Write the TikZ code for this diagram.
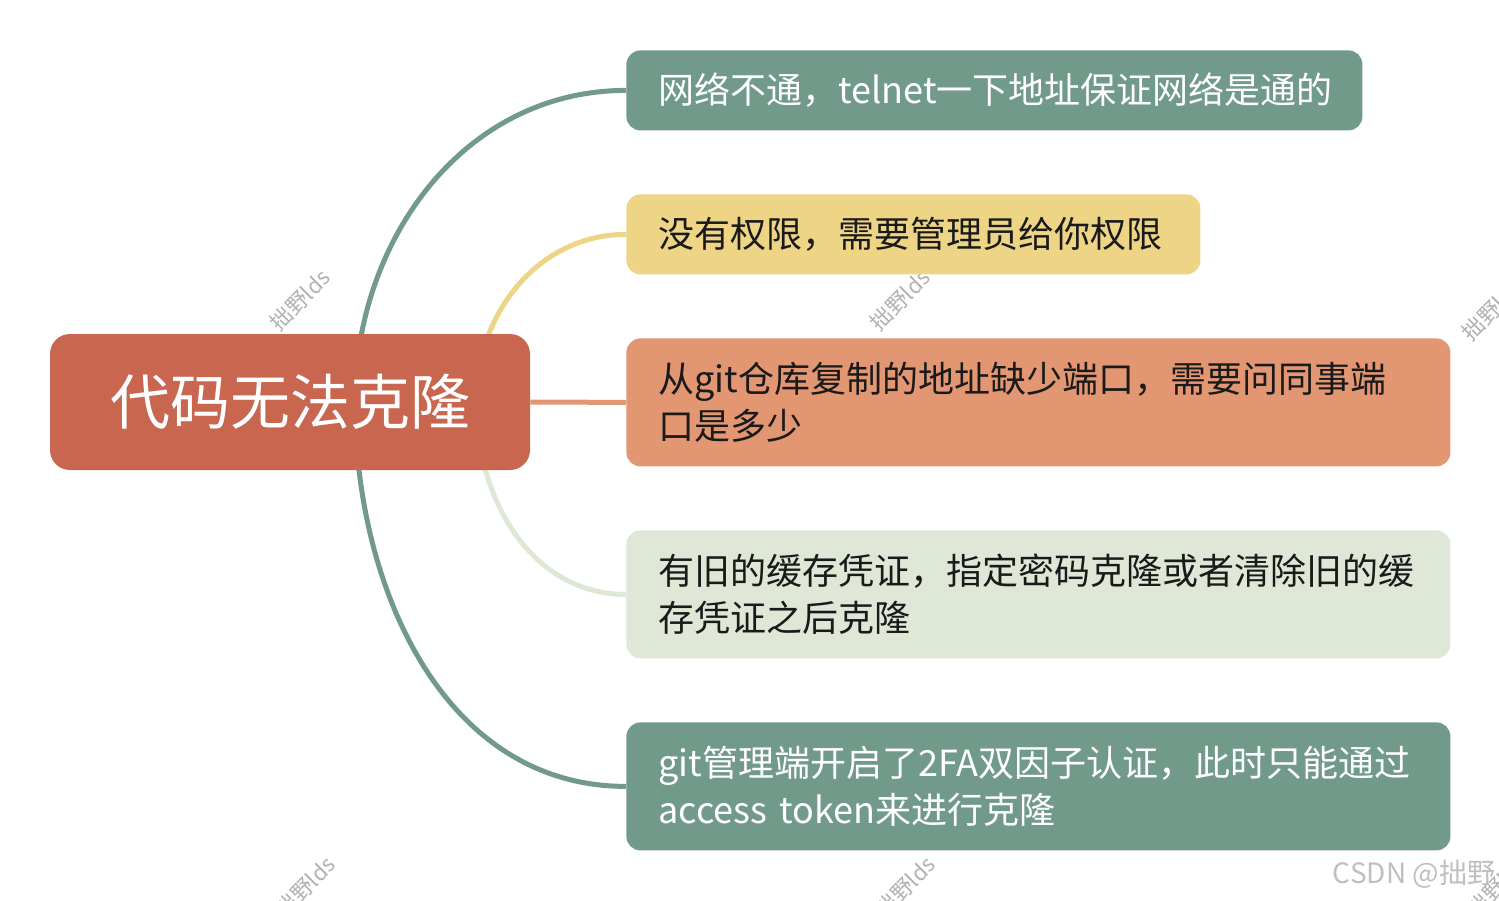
\documentclass[tikz,border=0pt]{standalone}
\usepackage{fontspec}
\setmainfont{Noto Sans CJK SC}
\usetikzlibrary{positioning, backgrounds}

\definecolor{rootred}{HTML}{C8664F}
\definecolor{sage}{HTML}{729A8B}
\definecolor{sand}{HTML}{EED485}
\definecolor{peach}{HTML}{E29672}
\definecolor{mint}{HTML}{DFE7D6}
\definecolor{inkdark}{HTML}{1A1A1A}

\tikzset{
    topic/.style={rectangle, rounded corners=10pt, fill=rootred, text=white,
        minimum width=240pt, minimum height=68pt, inner sep=0pt,
        font=\fontsize{30}{36}\selectfont},
    leaf/.style={rectangle, rounded corners=7pt, anchor=north west, align=left,
        inner xsep=16pt, inner ysep=0pt, font=\fontsize{18}{23.5}\selectfont},
    short/.style={leaf, text width=#1, minimum height=40pt},
    tall/.style={leaf, text width=380pt, minimum height=64pt},
    branch/.style={line width=2.5pt}
}

\begin{document}
\begin{tikzpicture}[x=0.5pt, y=-0.5pt]
        % Fix the page size
        \useasboundingbox (0,0) rectangle (1499,900);

        % Watermarks
        \foreach \wx/\wy in {300/300, 900/300, 1492/310, 305/887, 905/887, 1497/887}
            \node[rotate=45, text=black!30, font=\fontsize{11}{13}\selectfont] (wm) at (\wx,\wy) {拙野lds};

        % Draw the central topic
        \node[topic] (clone) at (290,402) {代码无法克隆};
        \coordinate (outer) at (355,402);
        \coordinate (inner) at (476,402);

        % Draw the causes
        \node[short=336pt, fill=sage, text=white] (net) at (626,50)
            {网络不通，telnet一下地址保证网络是通的};
        \node[short=255pt, fill=sand, text=inkdark] (perm) at (626,194)
            {没有权限，需要管理员给你权限};
        \node[tall, fill=peach, text=inkdark] (port) at (626,338)
            {从git仓库复制的地址缺少端口，需要问同事端\\口是多少};
        \node[tall, fill=mint, text=inkdark] (cred) at (626,530)
            {有旧的缓存凭证，指定密码克隆或者清除旧的缓\\存凭证之后克隆};
        \node[tall, fill=sage, text=white] (tfa) at (626,722)
            {git管理端开启了2FA双因子认证，此时只能通过\\access token来进行克隆};

        % Connect the topic to the causes
        \begin{scope}[on background layer]
            \draw[branch, sage] (outer) to[out=90, in=180] (net.west);
            \draw[branch, sand] (inner) to[out=90, in=180] (perm.west);
            \draw[branch, peach] (clone.east) -- (port.west);
            \draw[branch, mint] (inner) to[out=-90, in=180] (cred.west);
            \draw[branch, sage] (outer) to[out=-90, in=180] (tfa.west);
        \end{scope}

        % Site mark
        \node[text=black!25, font=\fontsize{14}{16}\selectfont] (mark) at (1414,874) {CSDN @拙野};
    \end{tikzpicture}
\end{document}
